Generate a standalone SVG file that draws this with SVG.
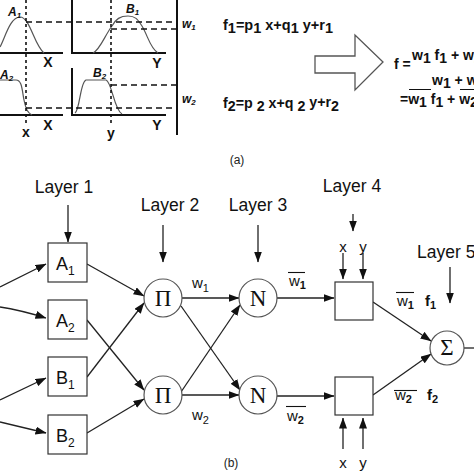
<svg xmlns="http://www.w3.org/2000/svg" width="474" height="474" viewBox="0 0 474 474">
<defs>
<marker id="ah" viewBox="0 0 11 8" markerWidth="11" markerHeight="8" refX="10.5" refY="4" orient="auto" markerUnits="userSpaceOnUse">
<path d="M0,0 L11,4 L0,8 z" fill="#111"/>
</marker>
<style>
.ax{stroke:#111;stroke-width:2;fill:none}
.cv{stroke:#555;stroke-width:1.2;fill:none}
.dsh{stroke:#111;stroke-width:1.6;stroke-dasharray:6,4;fill:none}
.dot{stroke:#111;stroke-width:1.6;stroke-dasharray:3,3;fill:none}
.ln{stroke:#222;stroke-width:1.3;fill:none}
.ar{stroke:#222;stroke-width:1.3;fill:none;marker-end:url(#ah)}
.box{fill:#fff;stroke:#333;stroke-width:1.2}
.circ{fill:#fff;stroke:#555;stroke-width:1.2}
.eq{font-family:"Liberation Sans",Arial,sans-serif;font-weight:bold;font-size:14px;fill:#111}
.lbl{font-family:"Liberation Sans",Arial,sans-serif;font-size:14px;fill:#111}
.it{font-family:"Liberation Sans",Arial,sans-serif;font-style:italic;font-weight:bold;font-size:12px;fill:#111}
.ly{font-family:"Liberation Sans",Arial,sans-serif;font-size:17.5px;fill:#111}
.bl{font-family:"Liberation Sans",Arial,sans-serif;font-size:18px;fill:#111}
.sb{font-size:12px}
.sym{font-family:"Liberation Serif","Times New Roman",serif;font-size:23px;fill:#111}
.w{font-family:"Liberation Sans",Arial,sans-serif;font-size:15px;fill:#111}
.cap{font-family:"Liberation Sans",Arial,sans-serif;font-size:12px;fill:#222}
</style>
</defs>

<!-- Panel (a): membership functions -->
<g id="mf-plots">
<path class="ax" d="M0,53 L63,53"/>
<path class="ax" d="M72,0 L72,53 L166,53"/>
<path class="ax" d="M0,115 L63,115"/>
<path class="ax" d="M72,68 L72,115 L166,115"/>
<path class="ax" d="M177,0 L177,135"/>
<path class="cv" d="M0,47 C5,38 10,17 20,17 C30,17 34,45 44,53"/>
<path class="cv" d="M93,53 C100,50 105,35 112,26 C116,19 120,16 128,16 C136,16 138,20 142,26 C148,36 150,48 158,53"/>
<path class="cv" d="M0,80 L16,80 C22,80 22,90 24,100 C26,110 28,113 32,115"/>
<path class="cv" d="M75,113 C80,110 80,82 86,80 L106,80 C112,82 114,110 122,114"/>
<path class="dot" d="M26,0 L26,124"/>
<path class="dot" d="M111,0 L111,124"/>
<path class="dsh" d="M26,22 L176,22"/>
<path class="dsh" d="M111,29 L176,29"/>
<path class="dsh" d="M111,85 L176,85"/>
<path class="dsh" d="M26,108 L176,108"/>
<text class="it" x="8" y="16">A<tspan font-size="8" dy="2">1</tspan></text>
<text class="it" x="126" y="13">B<tspan font-size="8" dy="2">1</tspan></text>
<text class="it" x="0" y="79">A<tspan font-size="8" dy="2">2</tspan></text>
<text class="it" x="93" y="77">B<tspan font-size="8" dy="2">2</tspan></text>
<text class="lbl" x="48" y="67" text-anchor="middle" font-weight="bold">X</text>
<text class="lbl" x="157" y="68" text-anchor="middle" font-weight="bold">Y</text>
<text class="lbl" x="48" y="130" text-anchor="middle" font-weight="bold">X</text>
<text class="lbl" x="157" y="130" text-anchor="middle" font-weight="bold">Y</text>
<text class="lbl" x="26" y="137" text-anchor="middle" font-weight="bold">x</text>
<text class="lbl" x="111" y="138" text-anchor="middle" font-weight="bold">y</text>
<text class="it" x="182" y="28">w<tspan font-size="8" dy="2">1</tspan></text>
<text class="it" x="182" y="103">w<tspan font-size="8" dy="2">2</tspan></text>
</g>

<g id="rules">
<text class="eq" x="223" y="30" textLength="110" lengthAdjust="spacingAndGlyphs">f<tspan dy="3">1</tspan><tspan dy="-3">=p</tspan><tspan dy="3">1</tspan><tspan dy="-3"> x+q</tspan><tspan dy="3">1</tspan><tspan dy="-3"> y+r</tspan><tspan dy="3">1</tspan></text>
<text class="eq" x="223" y="108" textLength="116" lengthAdjust="spacingAndGlyphs">f<tspan dy="3">2</tspan><tspan dy="-3">=p</tspan><tspan dy="3"> 2</tspan><tspan dy="-3"> x+q</tspan><tspan dy="3"> 2</tspan><tspan dy="-4"> y+r</tspan><tspan dy="4">2</tspan></text>
</g>

<g id="big-arrow">
<polygon points="315,56 355,56 355,35 383,62 355,90 355,73 315,73" fill="#fff" stroke="#555" stroke-width="1.3"/>
</g>

<g id="output-eq">
<text class="eq" x="394" y="69">f =</text>
<text class="eq" x="412" y="60">w<tspan dy="3">1</tspan><tspan dy="-3"> f</tspan><tspan dy="3">1</tspan><tspan dy="-3"> + w</tspan><tspan dy="3">2</tspan></text>
<text class="eq" x="432" y="85">w<tspan dy="3">1</tspan><tspan dy="-3"> + w</tspan></text>
<text class="eq" x="400" y="104">=w<tspan dy="3">1</tspan><tspan dy="-3"> f</tspan><tspan dy="3">1</tspan><tspan dy="-3"> + w</tspan><tspan dy="3">2</tspan></text>
<path d="M409,89.5 L431,89.5 M460,89.5 L474,89.5" stroke="#111" stroke-width="1.2"/>
</g>

<text class="cap" x="237" y="164" text-anchor="middle">(a)</text>

<!-- Panel (b): ANFIS -->
<g id="connectors">
<path class="ar" d="M0,287 L46,264"/>
<path class="ar" d="M0,307 Q20,310 46,318"/>
<path class="ar" d="M0,400 L46,378"/>
<path class="ar" d="M0,422 L46,433"/>
<path class="ar" d="M87,264 L144,296"/>
<path class="ar" d="M87,377 L144,303"/>
<path class="ar" d="M87,320 L144,390"/>
<path class="ar" d="M87,433 L144,399"/>
<path class="ar" d="M182,298 L239,298"/>
<path class="ar" d="M181,306 L240,390"/>
<path class="ar" d="M181,392 L240,305"/>
<path class="ar" d="M182,395 L239,395"/>
<path class="ar" d="M277,298 L334,298"/>
<path class="ar" d="M277,396 L334,396"/>
<path class="ar" d="M373,302 L431,341"/>
<path class="ar" d="M373,395 L431,354"/>
<path class="ln" d="M464,348 L474,348"/>
<path class="ar" d="M68,205 L68,242"/>
<path class="ar" d="M163,225 L163,262"/>
<path class="ar" d="M258,225 L258,262"/>
<path class="ar" d="M353,214 L353,231"/>
<path class="ar" d="M450,267 L450,303"/>
<path class="ar" d="M343,253 L343,279"/>
<path class="ar" d="M363,253 L363,279"/>
<path class="ar" d="M343,449 L343,418"/>
<path class="ar" d="M363,449 L363,418"/>
</g>

<g id="layer-labels">
<text class="ly" x="64" y="193" text-anchor="middle">Layer 1</text>
<text class="ly" x="170" y="211" text-anchor="middle">Layer 2</text>
<text class="ly" x="258" y="211" text-anchor="middle">Layer 3</text>
<text class="ly" x="352" y="192" text-anchor="middle">Layer 4</text>
<text class="ly" x="417" y="258">Layer 5</text>
</g>

<g id="A1"><rect class="box" x="48" y="243" width="39" height="39"/><text class="bl" x="56" y="270">A<tspan class="sb" dy="5">1</tspan></text></g>
<g id="A2"><rect class="box" x="48" y="300" width="39" height="39"/><text class="bl" x="56" y="327">A<tspan class="sb" dy="5">2</tspan></text></g>
<g id="B1"><rect class="box" x="48" y="357" width="39" height="39"/><text class="bl" x="56" y="384">B<tspan class="sb" dy="5">1</tspan></text></g>
<g id="B2"><rect class="box" x="48" y="415" width="39" height="39"/><text class="bl" x="56" y="442">B<tspan class="sb" dy="5">2</tspan></text></g>

<g id="Pi1"><circle class="circ" cx="163" cy="298" r="19"/><text class="sym" x="163" y="306" text-anchor="middle">Π</text></g>
<g id="Pi2"><circle class="circ" cx="163" cy="395" r="19"/><text class="sym" x="163" y="403" text-anchor="middle">Π</text></g>
<g id="N1"><circle class="circ" cx="258" cy="298" r="19"/><text class="sym" x="258" y="306" text-anchor="middle">N</text></g>
<g id="N2"><circle class="circ" cx="258" cy="395" r="19"/><text class="sym" x="258" y="403" text-anchor="middle">N</text></g>

<g id="L4a"><rect class="box" x="335" y="282" width="38" height="38"/></g>
<g id="L4b"><rect class="box" x="335" y="377" width="38" height="38"/></g>

<g id="Sigma"><circle class="circ" cx="447" cy="348" r="17"/><text class="sym" x="447" y="355" text-anchor="middle" font-size="21">Σ</text></g>

<g id="xy-labels">
<text class="w" x="343" y="252" text-anchor="middle">x</text>
<text class="w" x="363" y="252" text-anchor="middle">y</text>
<text class="w" x="343" y="468" text-anchor="middle">x</text>
<text class="w" x="363" y="468" text-anchor="middle">y</text>
</g>

<g id="weights">
<text class="w" x="192" y="288">w<tspan font-size="11" dy="4">1</tspan></text>
<text class="w" x="192" y="420">w<tspan font-size="11" dy="4">2</tspan></text>
<text class="w" x="289" y="286">w<tspan font-size="11" font-weight="bold" dy="3">1</tspan></text>
<path d="M288,272.5 L305,272.5" stroke="#111" stroke-width="1.1"/>
<text class="w" x="287" y="421">w<tspan font-size="11" font-weight="bold" dy="3">2</tspan></text>
<path d="M286,406.5 L306,406.5" stroke="#111" stroke-width="1.1"/>
<text class="w" x="397" y="306">w<tspan font-size="11" font-weight="bold" dy="3">1</tspan></text>
<path d="M396,292.5 L414,292.5" stroke="#111" stroke-width="1.1"/>
<text class="w" x="425" y="306" font-weight="bold">f<tspan font-size="11" dy="3">1</tspan></text>
<text class="w" x="395" y="400">w<tspan font-size="11" font-weight="bold" dy="3">2</tspan></text>
<path d="M394,390.5 L417,390.5" stroke="#111" stroke-width="1.1"/>
<text class="w" x="427" y="400" font-weight="bold">f<tspan font-size="11" dy="3">2</tspan></text>
</g>

<text class="cap" x="231" y="467" text-anchor="middle">(b)</text>
</svg>
